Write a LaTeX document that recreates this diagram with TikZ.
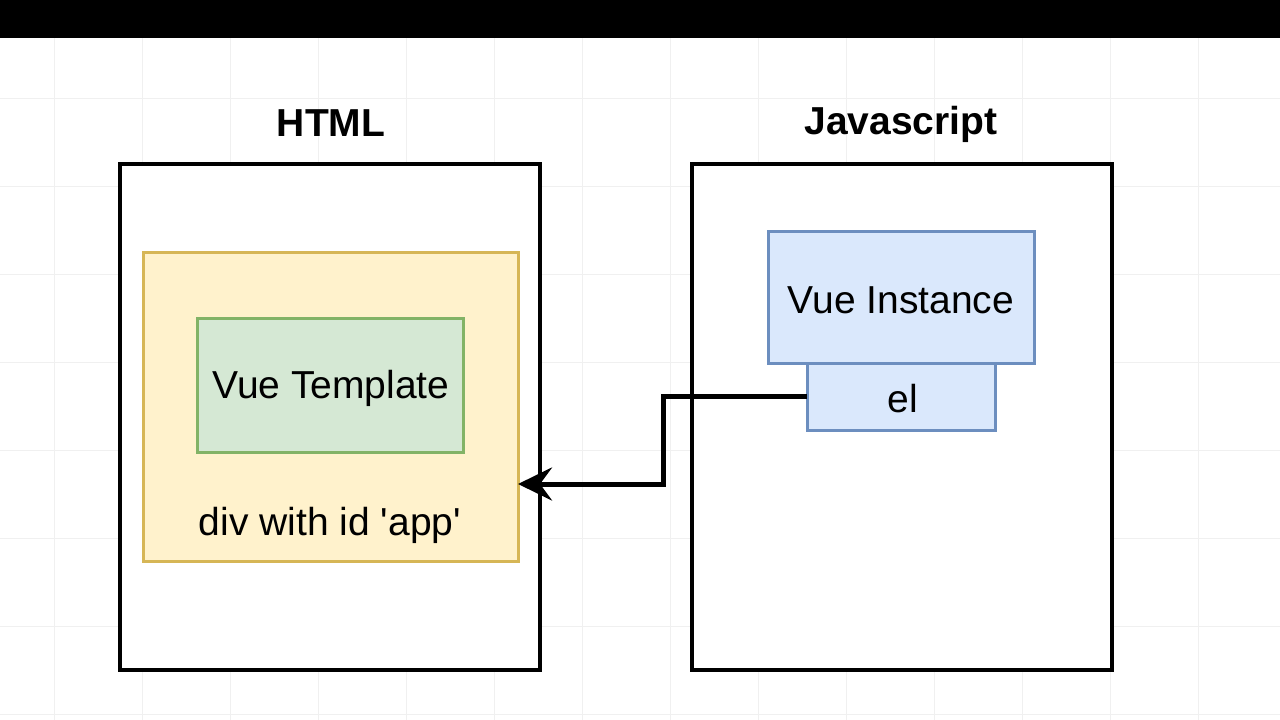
\documentclass[tikz,border=0pt]{standalone}
\usepackage{fontspec}
\setmainfont{Liberation Sans}[Ligatures=TeXOff]
\usetikzlibrary{arrows.meta}
\begin{document}
\begin{tikzpicture}[x=1pt,y=-1pt,
  outerbox/.style={draw=black,fill=white,line width=4,minimum width=420,minimum height=506,inner sep=0,outer sep=0},
  yellowbox/.style={draw={rgb,255:red,214;green,182;blue,86},fill={rgb,255:red,255;green,242;blue,204},line width=3,inner sep=0,outer sep=0},
  greenbox/.style={draw={rgb,255:red,130;green,179;blue,102},fill={rgb,255:red,213;green,232;blue,212},line width=3,inner sep=0,outer sep=0},
  bluebox/.style={draw={rgb,255:red,108;green,142;blue,191},fill={rgb,255:red,218;green,232;blue,252},line width=3,inner sep=0,outer sep=0},
  txt/.style={font=\fontsize{39}{46}\selectfont,inner sep=0},
  title/.style={font=\fontsize{39}{46}\selectfont\bfseries,inner sep=0},
  conn/.style={line width=5,draw=black,-{Stealth[length=34,width=33,inset=12]}}
]
\useasboundingbox (0,0) rectangle (1280,720);
\fill[white] (0,0) rectangle (1280,720);
% grid
\foreach \gx in {54,142,...,1280} {\draw[black!6,line width=1] (\gx,38) -- (\gx,720);}
\foreach \gy in {98,186,...,720} {\draw[black!6,line width=1] (0,\gy) -- (1280,\gy);}
% top bar
\fill[black] (0,0) rectangle (1280,38);

\node[title] (htmltitle) at (331,123) {HTML};
\node[title] (jstitle) at (901,124) {Javascript};

\node[outerbox] (html) at (330,417) {};
\node[outerbox] (js) at (901.5,417) {};

\node[yellowbox,minimum width=375,minimum height=309] (yellow) at (330.5,406.5) {};
\node[greenbox,minimum width=266,minimum height=134] (green) at (330,385) {};
\node[txt] (greenlabel) at (331,388) {Vue Template};
\node[txt] (divlabel) at (330,525) {div with id 'app'};

\node[bluebox,minimum width=266,minimum height=132] (vue) at (901,297) {};
\node[txt] (vuelabel) at (901,300) {Vue Instance};
\node[bluebox,minimum width=188,minimum height=67] (el) at (901,396.5) {};
\node[txt] (ellabel) at (903,399) {el};
\draw[bluebox,fill=none] (vue.south west) rectangle (vue.north east);

\path (yellow.east) ++(0,77.5) coordinate (tgt);
\draw[conn] (el.west) -- ++(-144,0) |- (tgt);
\end{tikzpicture}
\end{document}
